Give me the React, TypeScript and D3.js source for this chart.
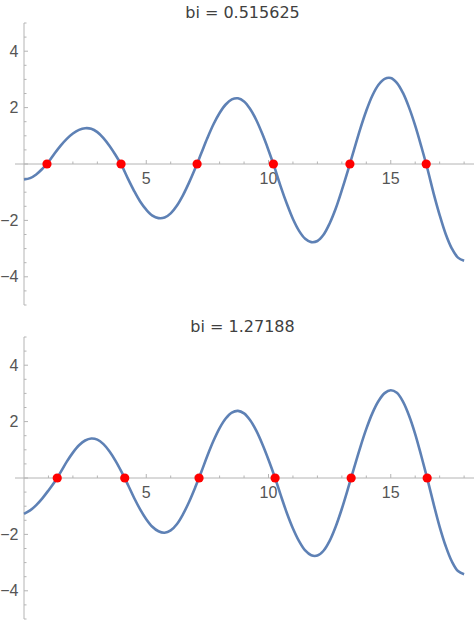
import * as d3 from "d3";

// sample positions along the curve (shared by both panels)
const xs = [0, 0.25, 0.5, 0.75, 1, 1.25, 1.5, 1.75, 2, 2.25, 2.5, 2.75, 3, 3.25, 3.5, 3.75, 4, 4.25, 4.5,
  4.75, 5, 5.25, 5.5, 5.75, 6, 6.25, 6.5, 6.75, 7, 7.25, 7.5, 7.75, 8, 8.25, 8.5, 8.75, 9, 9.25, 9.5,
  9.75, 10, 10.25, 10.5, 10.75, 11, 11.25, 11.5, 11.75, 12, 12.25, 12.5, 12.75, 13, 13.25, 13.5, 13.75,
  14, 14.25, 14.5, 14.75, 15, 15.25, 15.5, 15.75, 16, 16.25, 16.5, 16.75, 17, 17.25, 17.5, 17.75, 18];

const topValues = [-0.55, -0.5, -0.37, -0.17, 0.07, 0.37, 0.65, 0.89, 1.08, 1.21, 1.27, 1.25, 1.13, 0.92,
  0.64, 0.31, -0.06, -0.52, -0.95, -1.33, -1.62, -1.83, -1.92, -1.9, -1.75, -1.48, -1.11, -0.66, -0.16,
  0.38, 0.92, 1.41, 1.81, 2.11, 2.29, 2.33, 2.22, 1.95, 1.56, 1.06, 0.49, -0.13, -0.8, -1.41, -1.95,
  -2.37, -2.65, -2.77, -2.73, -2.51, -2.11, -1.58, -0.93, -0.23, 0.51, 1.24, 1.89, 2.43, 2.81, 3.02,
  3.05, 2.88, 2.52, 2.0, 1.36, 0.62, -0.17, -1.03, -1.81, -2.49, -3.0, -3.32, -3.43];

const bottomValues = [-1.27, -1.15, -0.96, -0.72, -0.44, -0.14, 0.21, 0.58, 0.9, 1.16, 1.33, 1.4, 1.36,
  1.2, 0.94, 0.6, 0.2, -0.24, -0.7, -1.11, -1.46, -1.73, -1.89, -1.94, -1.86, -1.64, -1.29, -0.85, -0.34,
  0.21, 0.79, 1.32, 1.77, 2.11, 2.32, 2.38, 2.29, 2.05, 1.68, 1.2, 0.65, 0.05, -0.61, -1.24, -1.79,
  -2.24, -2.57, -2.74, -2.75, -2.58, -2.23, -1.72, -1.09, -0.38, 0.36, 1.08, 1.74, 2.3, 2.73, 3.01,
  3.11, 3.02, 2.71, 2.21, 1.56, 0.78, -0.04, -0.91, -1.73, -2.42, -2.96, -3.3, -3.41];

const topZeros = [0.94, 3.97, 7.08, 10.2, 13.33, 16.45];
const bottomZeros = [1.36, 4.12, 7.16, 10.27, 13.38, 16.49];

const titles = ["bi = 0.515625", "bi = 1.27188"];

const xTickLabels = [5, 10, 15];
const yTickLabels = [-4, -2, 2, 4];

const W = 474;
const H = 622;

const x = d3.scaleLinear().domain([0, 18]).range([24, 464.1]);
const xMinor = d3.range(1, 19, 1);
const yMinor = d3.range(-5, 5.01, 0.5);

function Panel({ values, zeros, title, top }) {
  const y = d3.scaleLinear().domain([-5, 5]).range([top + 282, top]);
  const pts = xs.map((v, i) => [v, values[i]]);
  const line = d3.line()
    .x((d) => x(d[0]))
    .y((d) => y(d[1]))
    .curve(d3.curveCatmullRom.alpha(0.5));
  const y0 = y(0);

  return (
    <g>
      <text x={242.5} y={top - 5} textAnchor="middle" fontFamily="DejaVu Sans" fontSize={16} fill="#404040">
        {title}
      </text>
      {/* axes */}
      <line x1={15} x2={W} y1={y0} y2={y0} stroke="#b4b4b4" strokeWidth={1} />
      <line x1={x(0)} x2={x(0)} y1={y(5)} y2={y(-5)} stroke="#b4b4b4" strokeWidth={1} />
      {xMinor.map((t) => (
        <line key={"xm" + t} x1={x(t)} x2={x(t)} y1={y0} y2={y0 - (t % 5 === 0 ? 4 : 2.5)}
          stroke="#b4b4b4" strokeWidth={1} />
      ))}
      {yMinor.map((t) => (
        <line key={"ym" + t} x1={x(0)} x2={x(0) + (t % 2 === 0 ? 4 : 2.5)} y1={y(t)} y2={y(t)}
          stroke="#b4b4b4" strokeWidth={1} />
      ))}
      {xTickLabels.map((t) => (
        <text key={"xl" + t} x={x(t)} y={y0 + 20} textAnchor="middle"
          fontFamily="Liberation Sans, Arial, sans-serif" fontSize={16} fill="#555">
          {t}
        </text>
      ))}
      {yTickLabels.map((t) => (
        <text key={"yl" + t} x={18.5} y={y(t) + 5.6} textAnchor="end"
          fontFamily="Liberation Sans, Arial, sans-serif" fontSize={16} fill="#555">
          {t < 0 ? "\u2212" + Math.abs(t) : t}
        </text>
      ))}
      <path d={line(pts)} fill="none" stroke="#5E81B5" strokeWidth={2.6} />
      {zeros.map((z) => (
        <circle key={"z" + z} cx={x(z)} cy={y0} r={4.6} fill="#ff0000" />
      ))}
    </g>
  );
}

export default function App() {
  return (
    <svg width={W} height={H} style={{ position: "absolute", left: 0, top: 0, background: "#fff" }}>
      <Panel values={topValues} zeros={topZeros} title={titles[0]} top={23} />
      <Panel values={bottomValues} zeros={bottomZeros} title={titles[1]} top={337} />
    </svg>
  );
}
